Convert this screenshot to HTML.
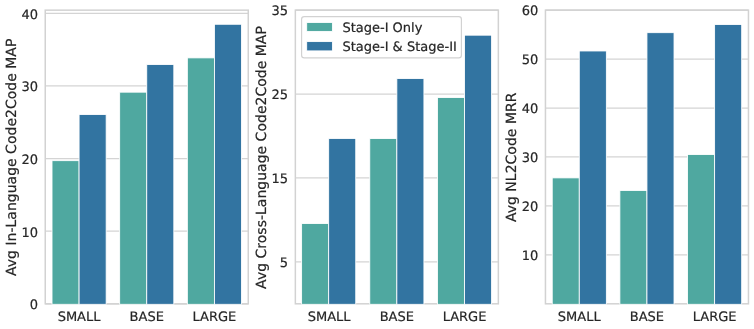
<!DOCTYPE html><html><head><meta charset="utf-8"><title>chart</title><style>html,body{margin:0;padding:0;background:#fff;width:754px;height:329px;overflow:hidden}svg{display:block}text{text-rendering:geometricPrecision;stroke:#262626;stroke-width:0.2px;font-family:"DejaVu Sans","Liberation Sans",sans-serif;fill:#262626}</style></head><body>
<svg width="754" height="329" viewBox="0 0 754 329">
<rect x="0" y="0" width="754" height="329" fill="#fff"/>
<line x1="45.25" y1="303.80" x2="248.25" y2="303.80" stroke="#d4d4d4" stroke-width="1.30"/>
<line x1="45.25" y1="231.18" x2="248.25" y2="231.18" stroke="#d4d4d4" stroke-width="1.30"/>
<line x1="45.25" y1="158.55" x2="248.25" y2="158.55" stroke="#d4d4d4" stroke-width="1.30"/>
<line x1="45.25" y1="85.93" x2="248.25" y2="85.93" stroke="#d4d4d4" stroke-width="1.30"/>
<line x1="45.25" y1="13.30" x2="248.25" y2="13.30" stroke="#d4d4d4" stroke-width="1.30"/>
<rect x="45.25" y="10.15" width="203.00" height="293.65" fill="none" stroke="#d2d2d2" stroke-width="1.50"/>
<rect x="52.02" y="160.67" width="27.07" height="143.63" fill="#4fa8a0" stroke="#fff" stroke-width="0.85"/>
<rect x="79.08" y="114.58" width="27.07" height="189.73" fill="#3274a1" stroke="#fff" stroke-width="0.85"/>
<rect x="119.68" y="92.17" width="27.07" height="212.12" fill="#4fa8a0" stroke="#fff" stroke-width="0.85"/>
<rect x="146.75" y="64.58" width="27.07" height="239.73" fill="#3274a1" stroke="#fff" stroke-width="0.85"/>
<rect x="187.35" y="57.88" width="27.07" height="246.43" fill="#4fa8a0" stroke="#fff" stroke-width="0.85"/>
<rect x="214.42" y="24.27" width="27.07" height="280.03" fill="#3274a1" stroke="#fff" stroke-width="0.85"/>
<text x="38.05" y="309.10" font-size="13.00" text-anchor="end">0</text>
<text x="38.05" y="236.88" font-size="13.00" text-anchor="end">10</text>
<text x="38.05" y="163.55" font-size="13.00" text-anchor="end">20</text>
<text x="38.05" y="91.23" font-size="13.00" text-anchor="end">30</text>
<text x="38.05" y="18.90" font-size="13.00" text-anchor="end">40</text>
<text x="79.08" y="320.8" font-size="13.00" text-anchor="middle">SMALL</text>
<text x="146.75" y="320.8" font-size="13.00" text-anchor="middle">BASE</text>
<text x="214.42" y="320.8" font-size="13.00" text-anchor="middle">LARGE</text>
<text transform="translate(15.90 157.30) rotate(-90)" font-size="14.02" text-anchor="middle">Avg In-Language Code2Code MAP</text>
<line x1="295.35" y1="261.85" x2="498.35" y2="261.85" stroke="#d4d4d4" stroke-width="1.30"/>
<line x1="295.35" y1="177.95" x2="498.35" y2="177.95" stroke="#d4d4d4" stroke-width="1.30"/>
<line x1="295.35" y1="94.05" x2="498.35" y2="94.05" stroke="#d4d4d4" stroke-width="1.30"/>
<line x1="295.35" y1="10.15" x2="498.35" y2="10.15" stroke="#d4d4d4" stroke-width="1.30"/>
<rect x="295.35" y="10.15" width="203.00" height="293.65" fill="none" stroke="#d2d2d2" stroke-width="1.50"/>
<rect x="301.62" y="223.57" width="27.07" height="80.73" fill="#4fa8a0" stroke="#fff" stroke-width="0.85"/>
<rect x="328.68" y="138.47" width="27.07" height="165.83" fill="#3274a1" stroke="#fff" stroke-width="0.85"/>
<rect x="369.78" y="138.57" width="27.07" height="165.73" fill="#4fa8a0" stroke="#fff" stroke-width="0.85"/>
<rect x="396.85" y="78.58" width="27.07" height="225.73" fill="#3274a1" stroke="#fff" stroke-width="0.85"/>
<rect x="437.45" y="97.58" width="27.07" height="206.73" fill="#4fa8a0" stroke="#fff" stroke-width="0.85"/>
<rect x="464.52" y="35.18" width="27.07" height="269.12" fill="#3274a1" stroke="#fff" stroke-width="0.85"/>
<text x="288.15" y="266.85" font-size="13.00" text-anchor="end">5</text>
<text x="288.15" y="182.95" font-size="13.00" text-anchor="end">15</text>
<text x="288.15" y="99.05" font-size="13.00" text-anchor="end">25</text>
<text x="288.15" y="15.15" font-size="13.00" text-anchor="end">35</text>
<text x="329.18" y="320.8" font-size="13.00" text-anchor="middle">SMALL</text>
<text x="396.85" y="320.8" font-size="13.00" text-anchor="middle">BASE</text>
<text x="464.52" y="320.8" font-size="13.00" text-anchor="middle">LARGE</text>
<text transform="translate(265.80 157.50) rotate(-90)" font-size="14.02" text-anchor="middle">Avg Cross-Language Code2Code MAP</text>
<line x1="545.45" y1="254.86" x2="748.45" y2="254.86" stroke="#d4d4d4" stroke-width="1.30"/>
<line x1="545.45" y1="205.92" x2="748.45" y2="205.92" stroke="#d4d4d4" stroke-width="1.30"/>
<line x1="545.45" y1="156.97" x2="748.45" y2="156.97" stroke="#d4d4d4" stroke-width="1.30"/>
<line x1="545.45" y1="108.03" x2="748.45" y2="108.03" stroke="#d4d4d4" stroke-width="1.30"/>
<line x1="545.45" y1="59.09" x2="748.45" y2="59.09" stroke="#d4d4d4" stroke-width="1.30"/>
<line x1="545.45" y1="10.15" x2="748.45" y2="10.15" stroke="#d4d4d4" stroke-width="1.30"/>
<rect x="545.45" y="10.15" width="203.00" height="293.65" fill="none" stroke="#d2d2d2" stroke-width="1.50"/>
<rect x="552.22" y="177.88" width="27.07" height="126.43" fill="#4fa8a0" stroke="#fff" stroke-width="0.85"/>
<rect x="579.28" y="50.98" width="27.07" height="253.33" fill="#3274a1" stroke="#fff" stroke-width="0.85"/>
<rect x="619.88" y="190.47" width="27.07" height="113.83" fill="#4fa8a0" stroke="#fff" stroke-width="0.85"/>
<rect x="646.95" y="32.68" width="27.07" height="271.62" fill="#3274a1" stroke="#fff" stroke-width="0.85"/>
<rect x="687.55" y="154.57" width="27.07" height="149.73" fill="#4fa8a0" stroke="#fff" stroke-width="0.85"/>
<rect x="714.62" y="24.57" width="27.07" height="279.73" fill="#3274a1" stroke="#fff" stroke-width="0.85"/>
<text x="538.25" y="259.86" font-size="13.00" text-anchor="end">10</text>
<text x="538.25" y="210.92" font-size="13.00" text-anchor="end">20</text>
<text x="538.25" y="161.97" font-size="13.00" text-anchor="end">30</text>
<text x="538.25" y="113.03" font-size="13.00" text-anchor="end">40</text>
<text x="538.25" y="64.09" font-size="13.00" text-anchor="end">50</text>
<text x="538.25" y="15.15" font-size="13.00" text-anchor="end">60</text>
<text x="579.28" y="320.8" font-size="13.00" text-anchor="middle">SMALL</text>
<text x="646.95" y="320.8" font-size="13.00" text-anchor="middle">BASE</text>
<text x="714.62" y="320.8" font-size="13.00" text-anchor="middle">LARGE</text>
<text transform="translate(515.90 157.30) rotate(-90)" font-size="14.02" text-anchor="middle">Avg NL2Code MRR</text>
<rect x="301.6" y="16.55" width="159.8" height="41.25" rx="2.6" ry="2.6" fill="#fff" fill-opacity="0.8" stroke="#d2d2d2" stroke-width="1.17"/>
<rect x="306.7" y="22.5" width="25.7" height="8.9" fill="#4fa8a0" stroke="#fff" stroke-width="0.85"/>
<rect x="306.7" y="41.6" width="25.7" height="9.3" fill="#3274a1" stroke="#fff" stroke-width="0.85"/>
<text x="342.4" y="31.9" font-size="13.00">Stage-I Only</text>
<text x="342.4" y="51.2" font-size="13.00">Stage-I &amp; Stage-II</text>
</svg></body></html>
